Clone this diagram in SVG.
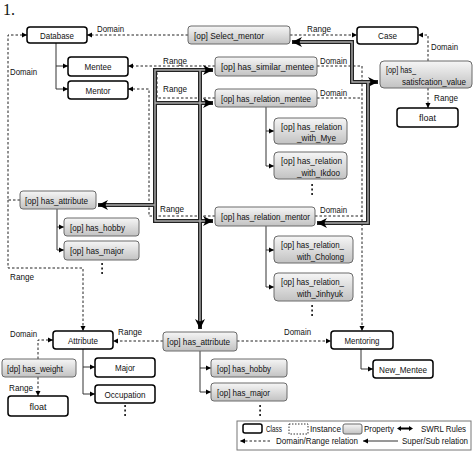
<svg xmlns="http://www.w3.org/2000/svg" width="474" height="467" viewBox="0 0 474 467">
<defs>
<linearGradient id="pg" x1="0" y1="0" x2="0" y2="1">
<stop offset="0" stop-color="#f6f6f6"/>
<stop offset="1" stop-color="#c2c2c2"/>
</linearGradient>
<marker id="a" markerUnits="userSpaceOnUse" markerWidth="6" markerHeight="6" refX="5" refY="3" orient="auto">
<path d="M0,0.5 L5,3 L0,5.5 z" fill="#000"/>
</marker>
<marker id="b" markerUnits="userSpaceOnUse" markerWidth="12" markerHeight="12" refX="10" refY="6" orient="auto-start-reverse">
<path d="M0,1 L10,6 L0,11 L3,6 z" fill="#000"/>
</marker>
</defs>
<style>
.c rect{fill:#fff;stroke:#000;stroke-width:1.5}
.p rect{fill:url(#pg);stroke:#6a6a6a;stroke-width:1}
text{font-family:"Liberation Sans",Arial,sans-serif;font-size:9.5px;fill:#111}
.m{text-anchor:middle}
.dash{fill:none;stroke:#222;stroke-width:1;stroke-dasharray:2.5,2}
.sub{fill:none;stroke:#333;stroke-width:1}
.so{fill:none;stroke:#222;stroke-width:4}
.si{fill:none;stroke:#aaa;stroke-width:1.4}
.dot{fill:#111}
</style>
<rect width="474" height="467" fill="#fff"/>
<text x="3" y="15" style="font-family:'Liberation Serif',serif;font-size:16px">1.</text>

<g id="connectors">
<!-- domain/range dashed -->
<path class="dash" d="M188,35 H87" marker-end="url(#a)"/>
<path class="dash" d="M20,200 H8 V35 H27" marker-end="url(#a)"/>
<path class="dash" d="M8,200 V268 H83 V331" marker-end="url(#a)"/>
<path class="dash" d="M290,35 H357" marker-end="url(#a)"/>
<path class="dash" d="M428,61 V35 H418" marker-end="url(#a)"/>
<path class="dash" d="M428,88 V108" marker-end="url(#a)"/>
<path class="dash" d="M215,66 H128" marker-end="url(#a)"/>
<path class="dash" d="M215,98 H157 V66"/>
<path class="dash" d="M215,216 H149 V89 H128" marker-end="url(#a)"/>
<path class="dash" d="M317,66 H362 V331" marker-end="url(#a)"/>
<path class="dash" d="M317,98 H362"/>
<path class="dash" d="M315,216 H362"/>
<path class="dash" d="M163,341 H113" marker-end="url(#a)"/>
<path class="dash" d="M237,341 H331" marker-end="url(#a)"/>
<path class="dash" d="M38,359 V340 H53" marker-end="url(#a)"/>
<path class="dash" d="M38,377 V396" marker-end="url(#a)"/>
<!-- super/sub -->
<path class="sub" d="M56,43 V89 H68" marker-end="url(#a)"/>
<path class="sub" d="M56,66 H68" marker-end="url(#a)"/>
<path class="sub" d="M266,107 V166 H274" marker-end="url(#a)"/>
<path class="sub" d="M266,131 H274" marker-end="url(#a)"/>
<path class="sub" d="M266,226 V287 H274" marker-end="url(#a)"/>
<path class="sub" d="M266,250 H274" marker-end="url(#a)"/>
<path class="sub" d="M57,209 V250 H64" marker-end="url(#a)"/>
<path class="sub" d="M57,227 H64" marker-end="url(#a)"/>
<path class="sub" d="M83,349 V394 H95" marker-end="url(#a)"/>
<path class="sub" d="M83,367 H95" marker-end="url(#a)"/>
<path class="sub" d="M200,351 V392 H211" marker-end="url(#a)"/>
<path class="sub" d="M200,368 H211" marker-end="url(#a)"/>
<path class="sub" d="M361,349 V369 H373" marker-end="url(#a)"/>
<!-- SWRL rules -->
<path class="so" d="M292,42 H352 V82 H378" marker-start="url(#b)" marker-end="url(#b)"/>
<path class="so" d="M368,82 V223 H317" marker-end="url(#b)"/>
<path class="so" d="M213,70 H155 V221 H213" marker-start="url(#b)" marker-end="url(#b)"/>
<path class="so" d="M155,103 H213" marker-end="url(#b)"/>
<path class="so" d="M155,205 H98" marker-end="url(#b)"/>
<path class="so" d="M200,70 V329" marker-end="url(#b)"/>
<path class="si" d="M300,42 H352 V82 H370"/>
<path class="si" d="M368,82 V223 H325"/>
<path class="si" d="M205,70 H155 V221 H205"/>
<path class="si" d="M155,103 H205"/>
<path class="si" d="M155,205 H106"/>
<path class="si" d="M200,70 V321"/>
<!-- dots -->
<g class="dot">
<rect x="311.3" y="184" width="1.6" height="2"/><rect x="311.3" y="188.5" width="1.6" height="2"/><rect x="311.3" y="193" width="1.6" height="2"/>
<rect x="311.3" y="305" width="1.6" height="2"/><rect x="311.3" y="309.5" width="1.6" height="2"/><rect x="311.3" y="314" width="1.6" height="2"/>
<rect x="101.3" y="263" width="1.6" height="2"/><rect x="101.3" y="267.5" width="1.6" height="2"/><rect x="101.3" y="272" width="1.6" height="2"/>
<rect x="124.3" y="405" width="1.6" height="2"/><rect x="124.3" y="409.5" width="1.6" height="2"/><rect x="124.3" y="414" width="1.6" height="2"/>
<rect x="259.3" y="405" width="1.6" height="2"/><rect x="259.3" y="409.5" width="1.6" height="2"/><rect x="259.3" y="414" width="1.6" height="2"/>
</g>
<!-- labels -->
<text x="97" y="32" textLength="27" lengthAdjust="spacingAndGlyphs">Domain</text>
<text x="10" y="75" textLength="27" lengthAdjust="spacingAndGlyphs">Domain</text>
<text x="163" y="64" textLength="24" lengthAdjust="spacingAndGlyphs">Range</text>
<text x="163" y="92" textLength="24" lengthAdjust="spacingAndGlyphs">Range</text>
<text x="307" y="32" textLength="24" lengthAdjust="spacingAndGlyphs">Range</text>
<text x="431" y="50" textLength="27" lengthAdjust="spacingAndGlyphs">Domain</text>
<text x="434" y="101" textLength="24" lengthAdjust="spacingAndGlyphs">Range</text>
<text x="320" y="64" textLength="27" lengthAdjust="spacingAndGlyphs">Domain</text>
<text x="320" y="96" textLength="27" lengthAdjust="spacingAndGlyphs">Domain</text>
<text x="320" y="213" textLength="27" lengthAdjust="spacingAndGlyphs">Domain</text>
<text x="160" y="212" textLength="24" lengthAdjust="spacingAndGlyphs">Range</text>
<text x="10" y="280" textLength="24" lengthAdjust="spacingAndGlyphs">Range</text>
<text x="10" y="337" textLength="27" lengthAdjust="spacingAndGlyphs">Domain</text>
<text x="118" y="335" textLength="24" lengthAdjust="spacingAndGlyphs">Range</text>
<text x="9" y="391" textLength="24" lengthAdjust="spacingAndGlyphs">Range</text>
<text x="284" y="335" textLength="27" lengthAdjust="spacingAndGlyphs">Domain</text>
</g>

<g id="n-database" class="c"><rect x="27" y="27" width="60" height="16" rx="3"/><text class="m" x="57" y="38.5" textLength="34" lengthAdjust="spacingAndGlyphs">Database</text></g>
<g id="n-mentee" class="c"><rect x="68" y="57" width="60" height="19" rx="3"/><text class="m" x="98" y="70" textLength="27" lengthAdjust="spacingAndGlyphs">Mentee</text></g>
<g id="n-mentor" class="c"><rect x="68" y="81" width="60" height="18" rx="3"/><text class="m" x="98" y="93.5" textLength="25" lengthAdjust="spacingAndGlyphs">Mentor</text></g>
<g id="n-case" class="c"><rect x="357" y="27" width="61" height="17" rx="3"/><text class="m" x="387.5" y="39" textLength="19" lengthAdjust="spacingAndGlyphs">Case</text></g>
<g id="n-float1" class="c"><rect x="397" y="108" width="61" height="19" rx="3"/><text class="m" x="427.5" y="121" textLength="17" lengthAdjust="spacingAndGlyphs">float</text></g>
<g id="n-attribute" class="c"><rect x="53" y="331" width="60" height="18" rx="3"/><text class="m" x="83" y="343.5" textLength="30" lengthAdjust="spacingAndGlyphs">Attribute</text></g>
<g id="n-major" class="c"><rect x="95" y="358" width="60" height="19" rx="3"/><text class="m" x="125" y="371" textLength="20" lengthAdjust="spacingAndGlyphs">Major</text></g>
<g id="n-occupation" class="c"><rect x="95" y="385" width="60" height="18" rx="3"/><text class="m" x="125" y="397.5" textLength="41" lengthAdjust="spacingAndGlyphs">Occupation</text></g>
<g id="n-float2" class="c"><rect x="8" y="396" width="60" height="20" rx="3"/><text class="m" x="38" y="409.5" textLength="17" lengthAdjust="spacingAndGlyphs">float</text></g>
<g id="n-mentoring" class="c"><rect x="331" y="331" width="62" height="18" rx="3"/><text class="m" x="362" y="343.5" textLength="35" lengthAdjust="spacingAndGlyphs">Mentoring</text></g>
<g id="n-newmentee" class="c"><rect x="373" y="360" width="60" height="18" rx="3"/><text class="m" x="403" y="372.5" textLength="48" lengthAdjust="spacingAndGlyphs">New_Mentee</text></g>

<g id="n-select-mentor" class="p"><rect x="188" y="26" width="102" height="18" rx="3"/><text x="194" y="38.5" textLength="70" lengthAdjust="spacingAndGlyphs">[op] Select_mentor</text></g>
<g id="n-has-similar-mentee" class="p"><rect x="215" y="57" width="102" height="19" rx="3"/><text x="221" y="70" textLength="93" lengthAdjust="spacingAndGlyphs">[op] has_similar_mentee</text></g>
<g id="n-has-relation-mentee" class="p"><rect x="215" y="89" width="102" height="18" rx="3"/><text x="221" y="101.5" textLength="90" lengthAdjust="spacingAndGlyphs">[op] has_relation_mentee</text></g>
<g id="n-has-satisfaction-value" class="p"><rect x="380" y="61" width="92" height="27" rx="4"/><text x="386" y="72.5" textLength="30" lengthAdjust="spacingAndGlyphs">[op] has_</text><text x="402" y="84.5" textLength="64" lengthAdjust="spacingAndGlyphs">satisfcation_value</text></g>
<g id="n-with-mye" class="p"><rect x="274" y="118" width="73" height="26" rx="4"/><text x="281" y="129.5" textLength="61" lengthAdjust="spacingAndGlyphs">[op] has_relation</text><text x="297" y="141" textLength="39" lengthAdjust="spacingAndGlyphs">_with_Mye</text></g>
<g id="n-with-ikdoo" class="p"><rect x="274" y="152" width="73" height="27" rx="4"/><text x="281" y="163.5" textLength="61" lengthAdjust="spacingAndGlyphs">[op] has_relation</text><text x="297" y="175.5" textLength="43" lengthAdjust="spacingAndGlyphs">_with_Ikdoo</text></g>
<g id="n-has-relation-mentor" class="p"><rect x="215" y="207" width="100" height="19" rx="3"/><text x="221" y="220" textLength="89" lengthAdjust="spacingAndGlyphs">[op] has_relation_mentor</text></g>
<g id="n-with-cholong" class="p"><rect x="274" y="236" width="79" height="27" rx="4"/><text x="281" y="247.5" textLength="63" lengthAdjust="spacingAndGlyphs">[op] has_relation_</text><text x="297" y="259.5" textLength="47" lengthAdjust="spacingAndGlyphs">with_Cholong</text></g>
<g id="n-with-jinhyuk" class="p"><rect x="274" y="273" width="79" height="28" rx="4"/><text x="281" y="284.5" textLength="63" lengthAdjust="spacingAndGlyphs">[op] has_relation_</text><text x="297" y="297" textLength="46" lengthAdjust="spacingAndGlyphs">with_Jinhyuk</text></g>
<g id="n-has-attribute-1" class="p"><rect x="20" y="191" width="76" height="18" rx="3"/><text x="25" y="203.5" textLength="63" lengthAdjust="spacingAndGlyphs">[op] has_attribute</text></g>
<g id="n-has-hobby-1" class="p"><rect x="64" y="218" width="75" height="18" rx="3"/><text x="70" y="230.5" textLength="55" lengthAdjust="spacingAndGlyphs">[op] has_hobby</text></g>
<g id="n-has-major-1" class="p"><rect x="64" y="241" width="75" height="19" rx="3"/><text x="70" y="254" textLength="54" lengthAdjust="spacingAndGlyphs">[op] has_major</text></g>
<g id="n-has-attribute-2" class="p"><rect x="163" y="332" width="74" height="19" rx="3"/><text x="167" y="345" textLength="63" lengthAdjust="spacingAndGlyphs">[op] has_attribute</text></g>
<g id="n-has-hobby-2" class="p"><rect x="211" y="359" width="76" height="18" rx="3"/><text x="217" y="371.5" textLength="54" lengthAdjust="spacingAndGlyphs">[op] has_hobby</text></g>
<g id="n-has-major-2" class="p"><rect x="211" y="383" width="76" height="18" rx="3"/><text x="217" y="395.5" textLength="53" lengthAdjust="spacingAndGlyphs">[op] has_major</text></g>
<g id="n-has-weight" class="p"><rect x="2" y="359" width="74" height="18" rx="3"/><text x="7" y="371.5" textLength="56" lengthAdjust="spacingAndGlyphs">[dp] has_weight</text></g>

<g id="legend">
<rect x="237" y="421" width="234" height="29" fill="#fff" stroke="#777" stroke-width="1"/>
<rect x="243" y="424" width="19" height="9" rx="2" fill="#fff" stroke="#000" stroke-width="1.5"/>
<text x="266" y="432" textLength="16" lengthAdjust="spacingAndGlyphs">Class</text>
<rect x="289" y="424" width="19" height="10" fill="#fff" stroke="#333" stroke-width="1" stroke-dasharray="1.5,1.5"/>
<text x="310" y="432" textLength="31" lengthAdjust="spacingAndGlyphs">Instance</text>
<rect x="343" y="424" width="19" height="10" rx="2" fill="url(#pg)" stroke="#666" stroke-width="1"/>
<text x="364" y="432" textLength="30" lengthAdjust="spacingAndGlyphs">Property</text>
<path d="M399,428.5 H411" stroke="#000" stroke-width="2" fill="none"/>
<path d="M397,428.5 L401,426 L401,431 z M413,428.5 L409,426 L409,431 z" fill="#000"/>
<text x="421" y="432" textLength="45" lengthAdjust="spacingAndGlyphs">SWRL Rules</text>
<path class="dash" d="M270,441 H240" marker-end="url(#a)"/>
<text x="276" y="444" textLength="82" lengthAdjust="spacingAndGlyphs">Domain/Range relation</text>
<path class="sub" d="M398,441 H363" marker-end="url(#a)"/>
<text x="402" y="444" textLength="66" lengthAdjust="spacingAndGlyphs">Super/Sub relation</text>
</g>
</svg>
